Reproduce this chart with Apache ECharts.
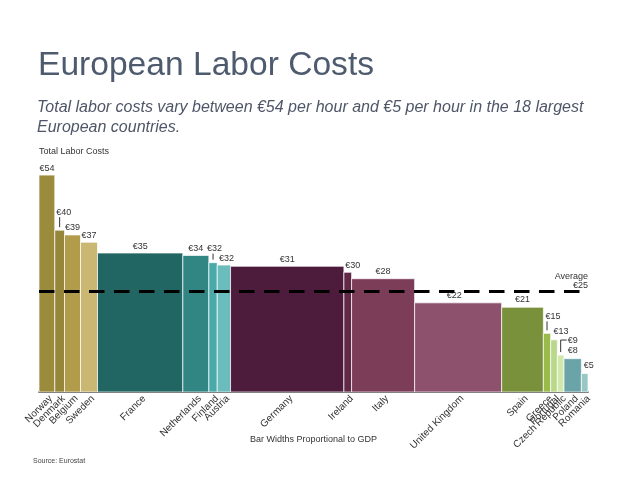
<!DOCTYPE html>
<html><head><meta charset="utf-8">
<script src="https://cdn.jsdelivr.net/npm/echarts@6/dist/echarts.min.js"></script>
<style>html,body{margin:0;padding:0;background:#fff}#c{width:638px;height:478px}</style>
</head><body><div id="c"></div>
<script>
const countries = ['Norway','Denmark','Belgium','Sweden','France','Netherlands','Finland','Austria','Germany','Ireland','Italy','United Kingdom','Spain','Greece','Portugal','Czech Republic','Poland','Romania'];
const laborCost = [54.0,40.3,39.1,37.3,34.6,34.0,32.2,31.6,31.3,29.8,28.2,22.2,21.1,14.6,13.0,9.2,8.3,4.6];
const gdp = [363,223,368,391,1962,598,193,306,2606,177,1449,2001,959,168,154,152,400,152];
const average = 25;

const colors = ['#9b8b3c','#95863a','#b09c4a','#cab872','#216662','#318683','#4aa9a9','#6bbcbc',
  '#4d1c3c','#622848','#7b3d58','#8d506d','#7a913b','#9aba4c','#b9d88a','#d0e8ab','#6aa3a8','#99c8c4'];
// label placement: [dx, dy from bar top, leader type 0 none / 1 vertical / 2 elbow]
const labelLayout = [[0,-7,0],[4,-18,1],[0,-7,0],[0,-7,0],[0,-7,0],[0,-7,0],[1.5,-14,1],[2.5,-7,0],
  [0,-7,0],[5,-7,0],[0,-7,0],[-4,-7,0],[0,-8,0],[6,-17,1],[7,-8,0],[12,-15,2],[0,-8,0],[4,-8,0]];

const FONT = '"Liberation Sans", Arial, sans-serif';
const starts = [], ends = [], centers = [];
let acc = 0;
gdp.forEach(g => { starts.push(acc); centers.push(acc + g/2); acc += g; ends.push(acc); });
const total = acc;
const data = countries.map((c, i) => [starts[i], ends[i], laborCost[i], i]);

const chart = echarts.init(document.getElementById('c'), null, {renderer: 'canvas'});
chart.setOption({
  animation: false,
  textStyle: {fontFamily: FONT},
  title: [
    {text: 'European Labor Costs', left: 38, top: 49, padding: 0,
     textStyle: {fontFamily: FONT, fontSize: 33.6, fontWeight: 'normal', color: '#4e5b6e'}},
    {text: 'Total labor costs vary between €54 per hour and €5 per hour in the 18 largest\nEuropean countries.',
     left: 37, top: 98, padding: 0,
     textStyle: {fontFamily: FONT, fontSize: 16, fontStyle: 'italic', fontWeight: 'normal', color: '#4e5668', lineHeight: 20}},
    {text: 'Total Labor Costs', left: 39, top: 147, padding: 0,
     textStyle: {fontFamily: FONT, fontSize: 9, fontWeight: 'normal', color: '#333'}},
    {text: 'Source: Eurostat', left: 33, top: 458, padding: 0,
     textStyle: {fontFamily: FONT, fontSize: 7, fontWeight: 'normal', color: '#444'}}
  ],
  grid: {left: 39, right: 50, top: 151, bottom: 86},
  xAxis: {
    type: 'value', min: 0, max: total,
    axisLine: {show: true, lineStyle: {color: '#000', width: 1.5}},
    axisTick: {show: false}, splitLine: {show: false},
    axisLabel: {show: false},
    name: 'Bar Widths Proportional to GDP', nameLocation: 'middle', nameGap: 43,
    nameTextStyle: {fontSize: 9, color: '#333', fontFamily: FONT}
  },
  yAxis: {type: 'value', min: 0, max: 60, show: false},
  series: [{
    type: 'custom',
    data: data,
    encode: {x: [0, 1], y: 2},
    renderItem: function (params, api) {
      const i = api.value(3);
      const p0 = api.coord([api.value(0), api.value(2)]);
      const p1 = api.coord([api.value(1), 0]);
      const x = p0[0], y = p0[1], w = p1[0] - p0[0], h = p1[1] - p0[1];
      const cx = x + w / 2;
      const lay = labelLayout[i];
      const lx = cx + lay[0], ly = y + lay[1];
      const children = [
        {type: 'rect', shape: {x: x, y: y, width: w, height: h},
         style: {fill: colors[i], stroke: 'rgba(255,255,255,0.7)', lineWidth: 1}},
        {type: 'text', x: lx, y: ly,
         style: {text: '€' + Math.round(api.value(2)), fill: '#333', fontSize: 9, fontFamily: FONT,
                 align: 'center', verticalAlign: 'middle'}},
        {type: 'text', x: cx + 4, y: p1[1] + 5, rotation: Math.PI / 4,
         style: {text: countries[i], fill: '#333', fontSize: 10, fontFamily: FONT,
                 align: 'right', verticalAlign: 'middle'}}
      ];
      if (lay[2] === 1) children.push({type: 'line', shape: {x1: cx, y1: y - 3, x2: cx, y2: ly + 5},
        style: {stroke: '#333', lineWidth: 1}});
      if (lay[2] === 2) children.push({type: 'polyline', shape: {points: [[cx, y - 3], [cx, ly], [lx - 6, ly]]},
        style: {stroke: '#333', fill: null, lineWidth: 1}});
      return {type: 'group', children: children};
    },
    markLine: {
      silent: true, symbol: 'none',
      data: [{yAxis: average}],
      lineStyle: {color: '#000', width: 3, type: [15.5, 9.5]},
      label: {position: 'insideEndTop', formatter: 'Average\n€' + average, align: 'right',
              fontSize: 9, color: '#333', fontFamily: FONT, lineHeight: 9, distance: [0, 2]}
    }
  }]
});
</script></body></html>
